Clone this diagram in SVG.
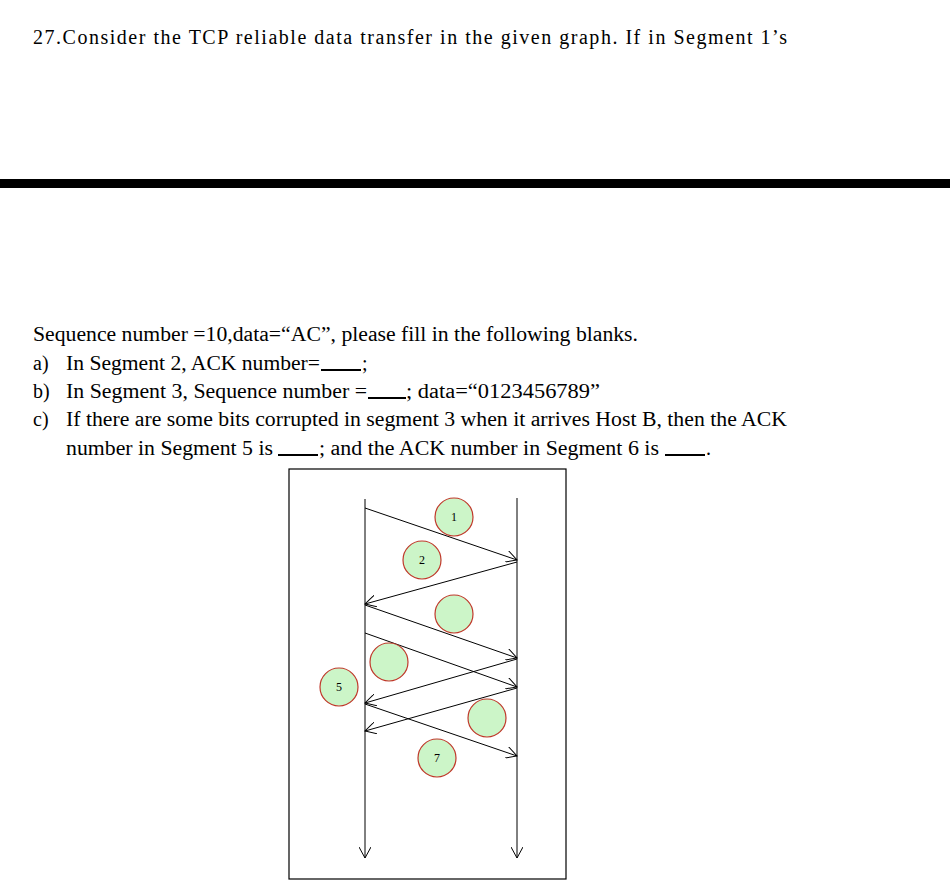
<svg xmlns="http://www.w3.org/2000/svg" width="950" height="888" viewBox="0 0 950 888">
<defs>
<marker id="ah" viewBox="0 0 12 12" refX="11" refY="6" markerWidth="12" markerHeight="12" markerUnits="userSpaceOnUse" orient="auto"><path d="M0,0 L11,6 L0,12" fill="none" stroke="#000" stroke-width="1"/></marker>
</defs>
<style>
text{font-family:"Liberation Serif","Times New Roman",serif;font-size:20px;fill:#000}
.c circle{fill:#ccf5c8;stroke:#c0392b;stroke-width:1.2}
.c text{font-size:12px;text-anchor:middle}
.ln{stroke:#000;stroke-width:1;fill:none}
.u{stroke:#000;stroke-width:2}
</style>
<rect width="950" height="888" fill="#fff"/>
<text x="33" y="44" textLength="754" lengthAdjust="spacing">27.Consider the TCP reliable data transfer in the given graph. If in Segment 1’s</text>
<rect x="0" y="179" width="950" height="9" fill="#000"/>
<text x="33" y="341" textLength="605" lengthAdjust="spacingAndGlyphs">Sequence number =10,data=“AC”, please fill in the following blanks.</text>
<text x="33" y="370">a)</text>
<text x="66" y="370" textLength="254" lengthAdjust="spacingAndGlyphs">In Segment 2, ACK number=</text>
<line class="u" x1="321" y1="370" x2="361" y2="370"/>
<text x="362" y="370">;</text>
<text x="33" y="398">b)</text>
<text x="66" y="398" textLength="301" lengthAdjust="spacingAndGlyphs">In Segment 3, Sequence number =</text>
<line class="u" x1="368" y1="398" x2="406" y2="398"/>
<text x="406" y="398" textLength="194" lengthAdjust="spacingAndGlyphs">; data=“0123456789”</text>
<text x="33" y="426">c)</text>
<text x="66" y="426" textLength="721" lengthAdjust="spacingAndGlyphs">If there are some bits corrupted in segment 3 when it arrives Host B, then the ACK</text>
<text x="66" y="455" textLength="207" lengthAdjust="spacingAndGlyphs">number in Segment 5 is</text>
<line class="u" x1="278" y1="455" x2="318" y2="455"/>
<text x="319" y="455" textLength="340" lengthAdjust="spacingAndGlyphs">; and the ACK number in Segment 6 is</text>
<line class="u" x1="665" y1="455" x2="705" y2="455"/>
<text x="706" y="455">.</text>
<rect x="289" y="469" width="277" height="410" fill="none" stroke="#000" stroke-width="1.2"/>
<g id="hostA"><line class="ln" x1="365" y1="499" x2="365" y2="858" marker-end="url(#ah)"/></g>
<g id="hostB"><line class="ln" x1="517" y1="498" x2="517" y2="858" marker-end="url(#ah)"/></g>
<g id="connectors" class="ln">
<line x1="365" y1="508" x2="517" y2="560" marker-end="url(#ah)"/>
<line x1="517" y1="562" x2="365" y2="604" marker-end="url(#ah)"/>
<line x1="365" y1="605" x2="517" y2="658" marker-end="url(#ah)"/>
<line x1="365" y1="633" x2="517" y2="687" marker-end="url(#ah)"/>
<line x1="517" y1="659" x2="365" y2="703" marker-end="url(#ah)"/>
<line x1="517" y1="688" x2="365" y2="731" marker-end="url(#ah)"/>
<line x1="365" y1="704" x2="517" y2="756" marker-end="url(#ah)"/>
</g>
<g id="seg1" class="c"><circle cx="454" cy="517" r="19"/><text x="454" y="521">1</text></g>
<g id="seg2" class="c"><circle cx="422" cy="560" r="19"/><text x="422" y="564">2</text></g>
<g id="seg3" class="c"><circle cx="454" cy="614" r="19"/></g>
<g id="seg4" class="c"><circle cx="389" cy="662" r="19"/></g>
<g id="seg5" class="c"><circle cx="339" cy="687" r="19"/><text x="339" y="691">5</text></g>
<g id="seg6" class="c"><circle cx="487" cy="718" r="19"/></g>
<g id="seg7" class="c"><circle cx="437" cy="758" r="19"/><text x="437" y="762">7</text></g>
</svg>
